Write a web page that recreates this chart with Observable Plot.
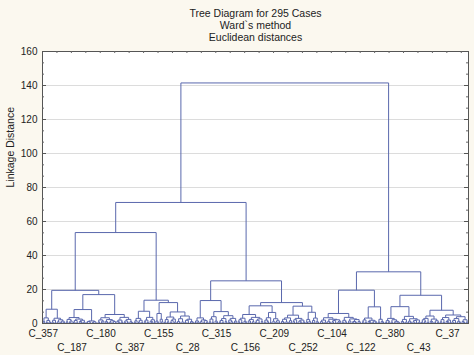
<!DOCTYPE html>
<html><head><meta charset="utf-8">
<script src="https://cdn.jsdelivr.net/npm/d3@7"></script>
<script src="https://cdn.jsdelivr.net/npm/@observablehq/plot@0.6"></script>
<style>
body{margin:0;background:#fbf8ef;}
#chart svg{display:block;}
</style>
</head><body><div id="chart"></div>
<script>
// ---- text ----
const titleLines = ["Tree Diagram for 295 Cases", "Ward`s method", "Euclidean distances"];
const yLabel = "Linkage Distance";
// case labels shown every 20th case, in leaf order
const caseLabels = ["C_357","C_187","C_180","C_387","C_155","C_28","C_315","C_156","C_209","C_252","C_104","C_122","C_380","C_43","C_37"];
const labelEvery = 20;
const yTicks = [0, 20, 40, 60, 80, 100, 120, 140, 160];

// ---- dendrogram data ----
// twigs: merge heights between consecutive cases inside each low-level cluster (leaf order)
const twigs = [
  [1.2, 3.3, 0.6, 1.8, 0.9],
  [0.8, 1.9, 0.5, 3.1, 1.1, 2.2, 0.7, 1.4, 0.6],
  [1.0, 2.4, 0.6, 1.5, 3.5, 0.9, 1.8, 0.4, 2.6, 1.2, 0.7, 1.9, 0.8],
  [0.5, 1.2, 0.4, 1.5, 0.6, 1.0, 0.3],
  [0.9, 2.1, 0.5, 1.4, 3.4, 1.1, 0.6, 2.3, 0.8, 1.6, 0.4, 1.2],
  [1.3, 0.6, 2.0, 0.9, 3.6, 0.7, 1.5, 0.5, 2.4, 1.0, 0.6],
  [0.7, 1.6, 3.0, 0.9, 1.9, 0.5],
  [1.1, 2.0, 0.6, 3.6, 1.3, 0.8, 2.2],
  [1.4, 0.6, 5.9, 2.5, 1.0],
  [0.8, 2.3, 1.0, 3.8, 0.6, 1.7, 2.6, 0.9],
  [1.2, 0.5, 2.8, 1.0, 4.4, 0.7, 1.9, 0.4, 2.5, 1.1, 0.8],
  [0.6, 1.5, 0.9, 3.3, 1.2, 2.1, 0.5, 1.7, 0.8],
  [1.0, 2.6, 0.7, 4.0, 1.4, 0.6],
  [0.9, 1.8, 0.5, 2.9, 1.2, 4.6, 0.8, 2.0, 1.1, 3.0, 0.6, 1.4],
  [1.0, 2.2, 0.6, 3.1, 1.3, 0.7, 5.3, 1.5, 0.5, 2.4, 1.1, 3.6, 0.8, 1.9, 0.4, 2.7, 1.2],
  [0.7, 2.0, 1.1, 3.4, 0.6, 6.5, 1.4, 2.8, 0.9, 1.6, 0.5],
  [1.2, 0.6, 2.5, 1.0, 3.3, 0.8, 1.7, 4.9, 1.1, 2.2, 0.5, 3.0, 1.4, 0.7, 2.0, 0.9],
  [0.9, 2.4, 1.3, 6.6, 0.6, 1.8, 3.2, 1.0, 0.5],
  [1.1, 0.5, 2.0, 0.8, 3.4, 1.3, 0.6, 2.5, 1.0, 1.7, 0.4, 2.2, 0.9, 1.4],
  [0.7, 1.9, 1.0, 3.6, 0.5, 1.5, 2.7, 0.8, 1.2, 0.6, 2.3, 1.1, 0.4],
  [1.0, 2.1, 0.6, 3.2, 1.2, 0.8, 1.9, 0.5, 1.4, 0.7],
  [0.8, 2.5, 1.1, 0.6],
  [0.6, 1.7, 1.0, 3.0, 0.8, 2.2, 0.5, 1.3, 0.9, 0.4],
  [1.2, 0.6, 2.4, 0.9, 4.2, 1.4, 0.7, 2.8, 1.0, 1.8, 0.5, 2.1, 0.8],
  [0.8, 2.2, 1.1, 3.0, 0.6, 4.4, 1.3, 0.9, 2.6, 0.5, 1.6, 0.7],
  [1.0, 2.3, 0.6, 3.5, 1.2, 0.8, 2.0, 5.0, 0.9, 1.8, 0.5, 2.9, 1.3, 0.7, 4.0, 1.1, 0.6, 2.2, 0.8]
];
// linkage distance at which each cluster joins the next one (leaf order)
const joins = [8.4, 19.5, 8.2, 17.0, 5.3, 53.5, 7.2, 13.7, 12.3, 6.8, 71.2, 13.5, 7.0,
               25.1, 10.4, 12.3, 10.2, 141.5, 5.9, 19.6, 9.8, 30.4, 9.9, 16.6, 7.8];

// ---- build dendrogram links ----
const gaps = [];
twigs.forEach((t, k) => { gaps.push(...t); if (k < joins.length) gaps.push(joins[k]); });
const nCases = gaps.length + 1;
const segs = [];
function build(lo, hi) {
  if (lo === hi) return {x: lo + 0.5, h: 0};
  let m = lo;
  for (let i = lo; i < hi; i++) if (gaps[i] > gaps[m]) m = i;
  const h = gaps[m];
  const a = build(lo, m), b = build(m + 1, hi);
  segs.push({x1: a.x, y1: a.h, x2: a.x, y2: h});
  segs.push({x1: b.x, y1: b.h, x2: b.x, y2: h});
  segs.push({x1: a.x, y1: h, x2: b.x, y2: h});
  return {x: (a.x + b.x) / 2, h};
}
build(0, nCases - 1);

const labelData = caseLabels.map((t, k) => ({t, x: k * labelEvery + 0.5, row: k % 2}));
const minorY = d3.range(0, 161, 20 / 3).filter(v => Math.abs(v / 20 - Math.round(v / 20)) > 1e-6);
const topTicks = d3.range(10, nCases, 10);

const W = 474, H = 355, mL = 42, mR = 6, mT = 51, mB = 32;
const pw = W - mL - mR, ph = H - mT - mB;
const blue = "#5a68ad";
const font = "'Liberation Sans', Arial, sans-serif";

const chart = Plot.plot({
  width: W, height: H,
  marginLeft: mL, marginRight: mR, marginTop: mT, marginBottom: mB,
  style: {background: "#fbf8ef", fontFamily: font, fontSize: "10px", color: "#222", overflow: "visible"},
  x: {domain: [0, nCases], axis: null},
  y: {domain: [0, 160], axis: null},
  marks: [
    Plot.frame({fill: "white", stroke: "none"}),
    Plot.gridY(yTicks.slice(1, -1), {stroke: "#dcdcdc", strokeOpacity: 1}),
    Plot.link(segs, {x1: "x1", y1: "y1", x2: "x2", y2: "y2", stroke: blue, strokeWidth: 1}),
    Plot.frame({stroke: "#555", strokeWidth: 1}),
    // major ticks inside frame, left and right
    Plot.tickY(yTicks, {y: d => d, stroke: "#555", insetRight: pw - 4}),
    Plot.tickY(yTicks, {y: d => d, stroke: "#555", insetLeft: pw - 4}),
    Plot.tickY(minorY, {y: d => d, stroke: "#666", insetRight: pw - 2}),
    Plot.tickY(minorY, {y: d => d, stroke: "#666", insetLeft: pw - 2}),
    Plot.tickX(topTicks, {x: d => d, stroke: "#666", insetBottom: ph - 2}),
    // y tick labels
    Plot.text(yTicks, {y: d => d, text: d => String(d), frameAnchor: "left", textAnchor: "end", dx: -5, fill: "#222", fontSize: 10}),
    // x labels in two staggered rows
    Plot.text(labelData.filter(d => d.row === 0), {x: "x", text: "t", frameAnchor: "bottom", lineAnchor: "middle", dy: 10, fill: "#222", fontSize: 10}),
    Plot.text(labelData.filter(d => d.row === 1), {x: "x", text: "t", frameAnchor: "bottom", lineAnchor: "middle", dy: 24, fill: "#222", fontSize: 10}),
    // y axis title
    Plot.text([yLabel], {frameAnchor: "left", rotate: -90, dx: -32, fill: "#222", fontSize: 10.5}),
    // chart title
    Plot.text([titleLines.join("\n")], {frameAnchor: "top", lineAnchor: "top", dy: -43, lineHeight: 1.14, fill: "#222", fontSize: 10.5})
  ]
});
document.getElementById("chart").appendChild(chart);
</script>
</body></html>
